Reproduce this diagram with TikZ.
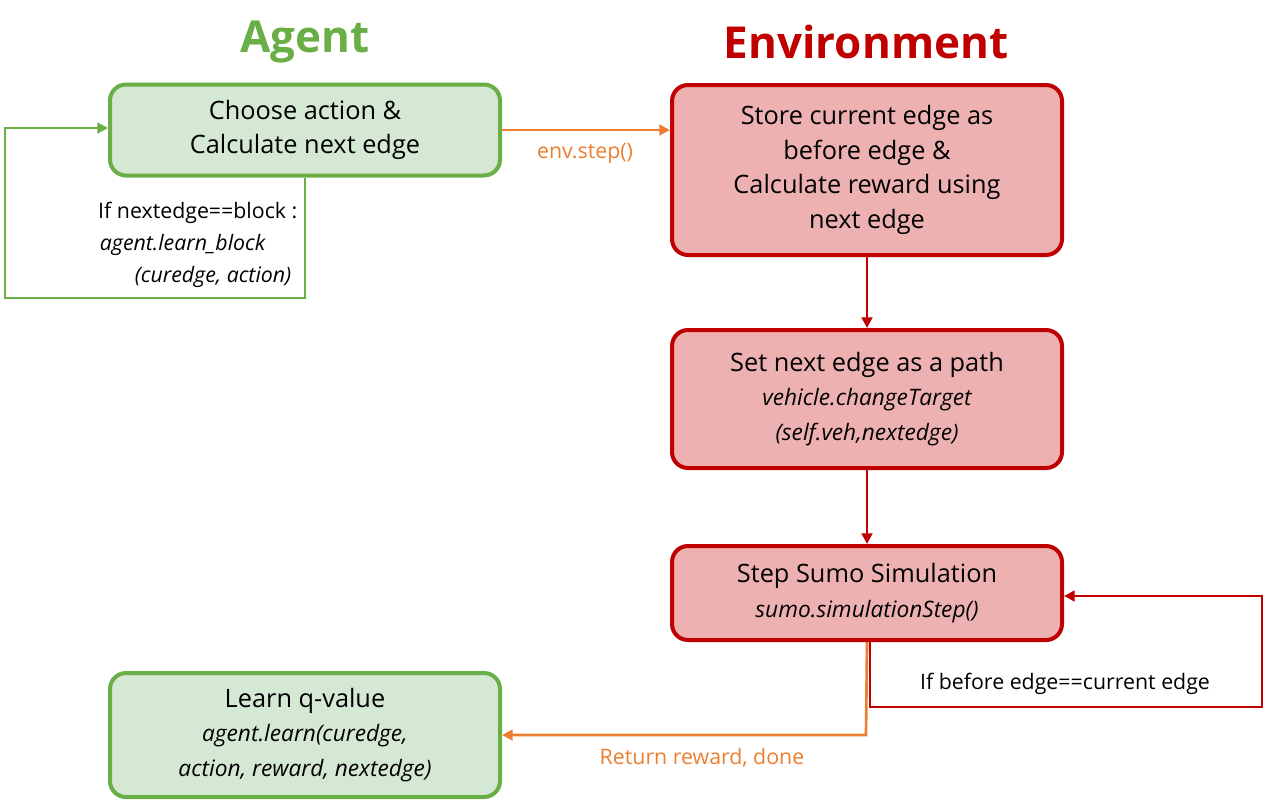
\documentclass[tikz,border=0pt]{standalone}
\usepackage{fontspec}
\setmainfont{Open Sans}
\usetikzlibrary{arrows.meta}
\definecolor{gfill}{HTML}{D5E8D4}
\definecolor{gline}{HTML}{6AAF46}
\definecolor{rfill}{HTML}{EEB1B1}
\definecolor{rline}{HTML}{C00000}
\definecolor{org}{HTML}{ED7D31}
\begin{document}
\begin{tikzpicture}[x=0.75pt,y=-0.75pt,
 box/.style={draw,line width=3pt,rounded corners=12pt,align=center,font=\fontsize{19}{26}\selectfont,inner sep=0pt},
 gbox/.style={box,draw=gline,fill=gfill},
 rbox/.style={box,draw=rline,fill=rfill},
 it/.style={font=\fontsize{17}{23}\selectfont\itshape},
 lab/.style={font=\fontsize{16}{20}\selectfont},
 arr/.style={line width=2pt,-{Triangle[length=8pt,width=8pt]}}]
\useasboundingbox (0,0) rectangle (1280,801);
\node[font=\fontsize{33}{40}\selectfont\bfseries,text=gline] (ta) at (305,42) {Agent};
\node[font=\fontsize{33}{40}\selectfont\bfseries,text=rline] (te) at (866,42) {Environment};
\node[gbox,minimum width=390*0.75pt,minimum height=91*0.75pt] (choose) at (305,130) {Choose action \&\\Calculate next edge};
\node[rbox,minimum width=390*0.75pt,minimum height=170*0.75pt] (store) at (867,170) {Store current edge as\\before edge \&\\Calculate reward using\\next edge};
\node[rbox,minimum width=390*0.75pt,minimum height=138*0.75pt] (set) at (867,399) {Set next edge as a path\\{\itshape\fontsize{17}{26}\selectfont vehicle.changeTarget}\\{\itshape\fontsize{17}{26}\selectfont (self.veh,nextedge)}};
\node[rbox,minimum width=390*0.75pt,minimum height=94*0.75pt] (sumo) at (867,593) {Step Sumo Simulation\\{\itshape\fontsize{17}{26}\selectfont sumo.simulationStep()}};
\node[gbox,minimum width=390*0.75pt,minimum height=124*0.75pt] (learn) at (305,735) {Learn q-value\\{\itshape\fontsize{17}{26}\selectfont agent.learn(curedge,}\\{\itshape\fontsize{17}{26}\selectfont action, reward, nextedge)}};
\draw[arr,org] (choose.east) -- (store.west|-choose.east);
\node[lab,text=org] (l1) at (585,153) {env.step()};
\draw[arr,rline] (store.south) -- (set.north);
\draw[arr,rline] (set.south) -- (sumo.north);
\coordinate (g1) at (306,298); \coordinate (g2) at (5,298); \coordinate (g3) at (5,128);
\draw[arr,gline] (choose.south) -- (choose.south|-g1) -- (g1) -- (g2) -- (g3) -- (choose.west|-g3);
\node[lab,anchor=east] (t1) at (302,213) {If nextedge==block :};
\node[lab,anchor=east,font=\fontsize{16}{20}\selectfont\itshape] (t2) at (270,245) {agent.learn\_block};
\node[lab,anchor=east,font=\fontsize{16}{20}\selectfont\itshape] (t3) at (296,277) {(curedge, action)};
\coordinate (r1) at (870,707); \coordinate (r2) at (1262,707); \coordinate (r3) at (1262,596);
\draw[arr,rline] (sumo.south-|r1) -- (r1) -- (r2) -- (r3) -- (sumo.east|-r3);
\node[lab] (t4) at (1065,684) {If before edge==current edge};
\coordinate (o1) at (866,735);
\draw[arr,org] (sumo.south) -- (o1) -- (learn.east|-o1);
\node[lab,text=org] (t5) at (702,758) {Return reward, done};
\end{tikzpicture}
\end{document}
